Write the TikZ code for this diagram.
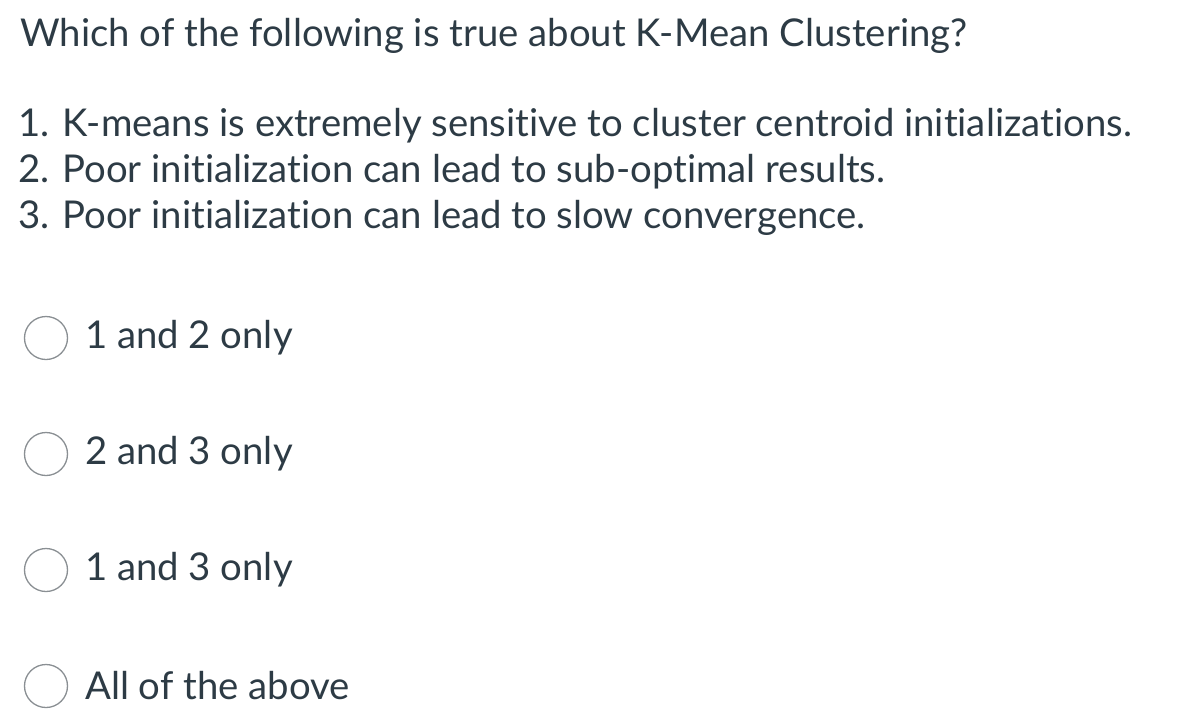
\documentclass[tikz,border=0pt]{standalone}
\usepackage{fontspec}
\setmainfont[Ligatures=CommonOff]{Lato}
\definecolor{txt}{HTML}{2D3B45}
\definecolor{ring}{HTML}{8A8F93}
\begin{document}
\begin{tikzpicture}[x=1pt,y=-1pt,
  t/.style={anchor=west,inner sep=0pt,text=txt,font=\fontsize{38.3}{44}\selectfont},
  radio/.style={circle,draw=ring,line width=1.3pt,minimum size=43pt,inner sep=0pt}]
\useasboundingbox (0,0) rectangle (1202,720);
\node[t] (q) at (20,36) {Which of the following is true about K-Mean Clustering?};
\node[t] (s1) at (18,126) {1. K-means is extremely sensitive to cluster centroid initializations.};
\node[t] (s2) at (18,172) {2. Poor initialization can lead to sub-optimal results.};
\node[t] (s3) at (18,218) {3. Poor initialization can lead to slow convergence.};
\node[radio] (r1) at (46,338) {};
\node[radio] (r2) at (46,454) {};
\node[radio] (r3) at (46,570) {};
\node[radio] (r4) at (46,686) {};
\node[t] (o1) at (85,338) {1 and 2 only};
\node[t] (o2) at (85,454) {2 and 3 only};
\node[t] (o3) at (85,570) {1 and 3 only};
\node[t] (o4) at (85,686) {All of the above};
\end{tikzpicture}
\end{document}
